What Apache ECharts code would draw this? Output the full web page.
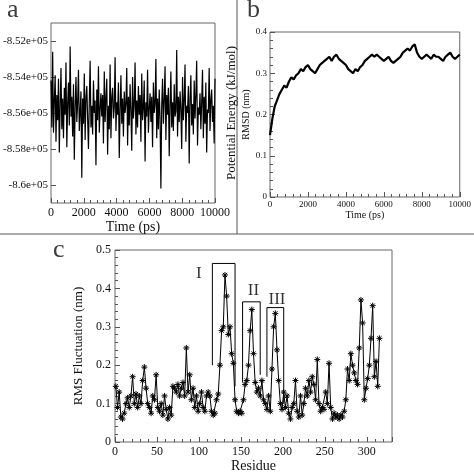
<!DOCTYPE html><html><head><meta charset="utf-8">
<script src="https://cdn.jsdelivr.net/npm/echarts@6/dist/echarts.min.js"></script>
<style>html,body{margin:0;padding:0;background:#fff}#c{width:474px;height:474px}</style></head><body><div id="c"></div>
<script>
const energy = [-854.2,-856.8,-852.6,-857.1,-855.3,-853.9,-857.6,-855.0,-856.4,-854.1,-858.2,-855.6,-853.5,-856.9,-855.2,-857.4,-854.6,-856.1,-853.2,-857.9,-855.5,-854.3,-856.7,-852.3,-856.2,-855.1,-857.3,-854.4,-858.6,-855.7,-854.0,-856.5,-855.4,-853.6,-857.0,-855.9,-854.8,-859.6,-855.2,-856.6,-853.8,-857.5,-855.1,-854.5,-856.3,-858.0,-855.4,-853.1,-856.8,-855.6,-857.2,-854.2,-856.0,-855.3,-858.9,-854.7,-856.4,-853.4,-857.1,-855.8,-854.9,-856.2,-855.0,-857.7,-853.7,-856.5,-855.2,-854.1,-858.3,-855.6,-856.9,-853.3,-857.4,-855.1,-854.6,-856.3,-855.7,-852.9,-857.0,-855.4,-856.1,-854.3,-858.5,-855.9,-853.9,-856.6,-855.2,-857.3,-854.8,-856.0,-855.5,-853.5,-857.8,-855.1,-856.7,-854.4,-855.9,-858.1,-854.0,-856.3,-855.6,-853.2,-857.2,-855.3,-856.8,-854.5,-856.1,-855.0,-857.6,-853.8,-856.4,-855.7,-854.2,-858.7,-855.4,-856.2,-853.6,-857.1,-855.8,-854.9,-856.5,-855.1,-857.9,-854.3,-856.0,-855.5,-853.0,-857.4,-855.2,-856.9,-854.7,-856.3,-860.2,-855.6,-854.1,-856.6,-855.3,-853.4,-857.5,-855.0,-856.1,-854.6,-858.4,-855.7,-853.7,-856.8,-855.4,-857.0,-854.4,-856.2,-855.9,-852.5,-857.3,-855.1,-856.5,-854.8,-855.8,-858.0,-854.0,-856.4,-855.3,-853.3,-857.6,-855.6,-856.0,-854.5,-858.8,-855.2,-853.9,-856.7,-855.5,-857.2,-854.2,-856.3,-855.0,-853.1,-857.8,-855.7,-856.1,-854.9,-856.9,-855.4,-853.6,-857.4,-855.1,-856.6,-854.3,-858.2,-855.8,-856.0,-853.5,-857.0,-855.3,-854.7,-856.5,-855.6,-857.7,-854.1];
const rmsd = [0.15,0.19,0.22,0.235,0.25,0.26,0.27,0.265,0.28,0.29,0.285,0.295,0.30,0.31,0.305,0.315,0.32,0.31,0.305,0.30,0.31,0.32,0.325,0.33,0.335,0.34,0.33,0.34,0.345,0.335,0.33,0.325,0.32,0.31,0.305,0.30,0.31,0.305,0.315,0.32,0.33,0.335,0.34,0.345,0.34,0.345,0.34,0.335,0.33,0.335,0.34,0.33,0.325,0.33,0.335,0.34,0.35,0.355,0.36,0.355,0.365,0.37,0.35,0.34,0.335,0.34,0.345,0.34,0.335,0.345,0.34,0.34,0.335,0.33,0.34,0.345,0.35,0.34,0.335,0.34,0.345];
const rmsf = [.145,.09,.13,.065,.06,.075,.10,.115,.09,.12,.17,.10,.125,.09,.12,.10,.16,.195,.14,.10,.09,.075,.12,.11,.175,.09,.08,.10,.07,.12,.085,.06,.09,.07,.145,.14,.13,.15,.12,.14,.155,.12,.245,.13,.175,.11,.14,.09,.12,.08,.10,.13,.09,.08,.12,.13,.12,.08,.07,.075,.11,.125,.20,.29,.30,.435,.38,.28,.30,.23,.205,.11,.08,.075,.08,.075,.11,.15,.16,.20,.29,.345,.23,.155,.13,.14,.12,.16,.11,.10,.085,.12,.08,.19,.30,.335,.24,.16,.10,.085,.13,.09,.12,.075,.06,.09,.10,.16,.08,.065,.12,.07,.10,.14,.12,.16,.13,.17,.15,.11,.215,.10,.08,.09,.085,.13,.10,.205,.09,.06,.075,.065,.07,.06,.07,.065,.08,.11,.19,.16,.23,.20,.18,.16,.15,.245,.37,.31,.11,.14,.165,.20,.27,.355,.17,.21,.145,.27];
const brackets = [
  {label:'I', pts:[[116,0.2],[116,0.465],[143,0.465],[143,0.145]], lab:[100,0.44]},
  {label:'II', pts:[[152,0.155],[152,0.365],[173,0.365],[173,0.175]], lab:[165,0.395]},
  {label:'III', pts:[[181,0.17],[181,0.35],[201,0.35],[201,0.1]], lab:[193,0.37]}
];
const F = 'Liberation Serif';
const tFx = (i,n)=>i*10000/(n-1);
const ax = (o)=>Object.assign({axisLine:{show:false},axisTick:{inside:true,length:5,lineStyle:{color:'#555'}},minorTick:{show:true,length:3,lineStyle:{color:'#555'}},splitLine:{show:false},axisLabel:{fontFamily:F,color:'#111'},nameTextStyle:{fontFamily:F,color:'#111'}},o);
const star='path://M5,0L5,10M0,5L10,5M1.5,1.5L8.5,8.5M8.5,1.5L1.5,8.5';
const plain = v=>String(v);
const chart = echarts.init(document.getElementById('c'));
const series = [
 {type:'line',xAxisIndex:0,yAxisIndex:0,data:energy.map((v,i)=>[tFx(i,energy.length),v*1000]),showSymbol:false,lineStyle:{color:'#000',width:1.2},animation:false},
 {type:'line',xAxisIndex:1,yAxisIndex:2,data:rmsd.map((v,i)=>[tFx(i,rmsd.length),v]),showSymbol:false,lineStyle:{color:'#000',width:2.2},animation:false},
 {type:'line',xAxisIndex:2,yAxisIndex:3,data:rmsf.map((v,i)=>[1+2*i,v]),symbol:star,symbolSize:6,itemStyle:{color:'none',borderColor:'#000',borderWidth:1},lineStyle:{color:'#000',width:1},animation:false}
];
brackets.forEach(b=>{
 series.push({type:'line',xAxisIndex:2,yAxisIndex:3,data:b.pts,showSymbol:false,lineStyle:{color:'#000',width:1},animation:false});
 series.push({type:'scatter',xAxisIndex:2,yAxisIndex:3,data:[b.lab],symbolSize:0,label:{show:true,formatter:b.label,fontFamily:F,fontSize:17,color:'#000'},animation:false});
});
chart.setOption({
 animation:false,
 title:[{text:'a',left:2,top:-8,textStyle:{fontFamily:F,fontSize:26,fontWeight:'normal'}},
        {text:'b',left:242,top:-8,textStyle:{fontFamily:F,fontSize:26,fontWeight:'normal'}},
        {text:'c',left:48,top:232,textStyle:{fontFamily:F,fontSize:26,fontWeight:'normal'}}],
 grid:[{left:51,top:23,width:164,height:180,show:true,borderColor:'#666'},
       {left:270,top:32,width:194,height:165,show:true,borderColor:'#666'},
       {left:115,top:250,width:277,height:193,show:true,borderColor:'#666'}],
 xAxis:[ax({gridIndex:0,min:0,max:10000,interval:2000,name:'Time (ps)',nameLocation:'middle',nameGap:15,nameTextStyle:{fontFamily:F,fontSize:14,color:'#111'},axisLabel:{fontFamily:F,fontSize:12,color:'#111',margin:4,formatter:plain}}),
        ax({gridIndex:1,min:0,max:10000,interval:2000,name:'Time (ps)',nameLocation:'middle',nameGap:12,nameTextStyle:{fontFamily:F,fontSize:10,color:'#111'},axisLabel:{fontFamily:F,fontSize:9,color:'#111',margin:3,formatter:plain}}),
        ax({gridIndex:2,min:0,max:330,interval:50,name:'Residue',nameLocation:'middle',nameGap:17,nameTextStyle:{fontFamily:F,fontSize:14,color:'#111'},axisLabel:{fontFamily:F,fontSize:12,color:'#111',margin:4,showMaxLabel:false}})],
 yAxis:[ax({gridIndex:0,min:-861000,max:-851000,axisLabel:{fontFamily:F,fontSize:11,color:'#111',margin:3,customValues:[-860000,-858000,-856000,-854000,-852000],formatter:v=>parseFloat((v/1e5).toFixed(2))+'e+05'},axisTick:{inside:true,length:5,customValues:[-860000,-858000,-856000,-854000,-852000]},minorTick:{show:false}}),
        ax({gridIndex:0,position:'right',min:-861000,max:-851000,axisLabel:{show:false},axisTick:{show:false},minorTick:{show:false},name:'Potential Energy (kJ/mol)',nameLocation:'middle',nameGap:10,nameRotate:90,nameTextStyle:{fontFamily:F,fontSize:13,color:'#111'}}),
        ax({gridIndex:1,min:0,max:0.4,interval:0.1,name:'RMSD (nm)',nameLocation:'middle',nameGap:16,nameTextStyle:{fontFamily:F,fontSize:10,color:'#111'},axisLabel:{fontFamily:F,fontSize:9,color:'#111',margin:3}}),
        ax({gridIndex:2,min:0,max:0.5,interval:0.1,name:'RMS Fluctuation (nm)',nameLocation:'middle',nameGap:24,nameTextStyle:{fontFamily:F,fontSize:13,color:'#111'},axisLabel:{fontFamily:F,fontSize:12,color:'#111',margin:4}})],
 graphic:[{type:'line',shape:{x1:237,y1:0,x2:237,y2:234},style:{stroke:'#555',lineWidth:1}},
          {type:'line',shape:{x1:0,y1:234,x2:474,y2:234},style:{stroke:'#555',lineWidth:1}}],
 series
});
</script></body></html>
